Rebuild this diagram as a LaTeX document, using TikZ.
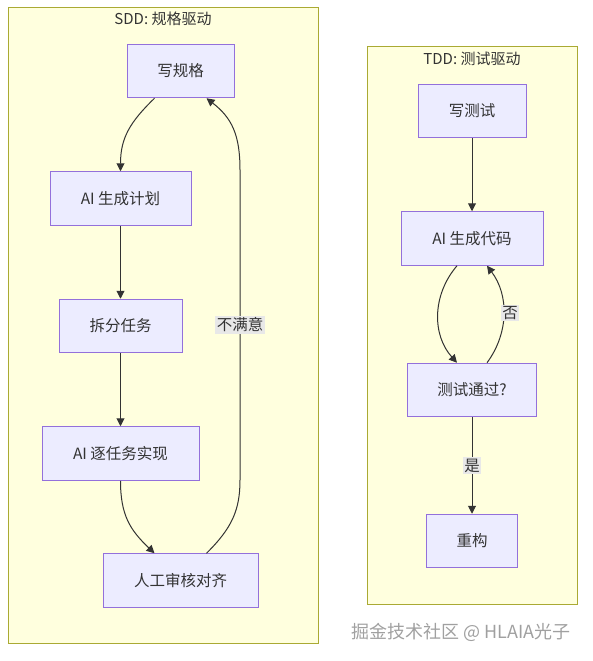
\documentclass[tikz,border=0pt]{standalone}
\usepackage{fontspec}
\setmainfont{Noto Sans CJK SC}
\usetikzlibrary{arrows.meta,positioning,calc}
\definecolor{clusterFill}{RGB}{255, 255, 222}
\definecolor{clusterLine}{RGB}{170, 170, 51}
\definecolor{stepFill}{RGB}{236, 236, 255}
\definecolor{stepLine}{RGB}{147, 112, 219}
\definecolor{edgeInk}{RGB}{51, 51, 51}
\definecolor{labelFill}{RGB}{232, 232, 232}
\definecolor{markGray}{RGB}{160, 160, 160}

\begin{document}
\begin{tikzpicture}[x=1pt, y=-1pt,
    cluster/.style={draw=clusterLine, fill=clusterFill, line width=1pt, inner sep=0pt},
    title/.style={font=\fontsize{15pt}{18pt}\selectfont, text=edgeInk},
    stepbox/.style={draw=stepLine, fill=stepFill, line width=1pt, minimum height=53.5pt, inner sep=0pt,
        font=\fontsize{15.5pt}{18pt}\selectfont, text=edgeInk},
    flow/.style={draw=edgeInk, line width=1pt, -{Triangle[length=8pt,width=8pt]}},
    edgetag/.style={fill=labelFill, inner sep=1.5pt, font=\fontsize{15.5pt}{18pt}\selectfont, text=edgeInk}]
      \useasboundingbox (0,0) rectangle (593,661);

      % SDD side
      \node (sdd) [cluster, minimum width=310pt, minimum height=635pt] at (163,325.5) {};
      \node (sddTitle) [title] at (163,19) {SDD: 规格驱动};
      \node (spec) [stepbox, minimum width=107pt] at (180.5,71) {写规格};
      \node (plan) [stepbox, minimum width=141pt] at (120.5,198.5) {AI 生成计划};
      \node (split) [stepbox, minimum width=123pt] at (120.5,326) {拆分任务};
      \node (impl) [stepbox, minimum width=157pt] at (120.5,453.5) {AI 逐任务实现};
      \node (review) [stepbox, minimum width=155pt] at (180.5,580.5) {人工审核对齐};

      \draw[flow] ([xshift=-26pt]spec.south) .. controls (130,122) and (120.5,138) .. (plan.north);
      \draw[flow] (plan) -- (split);
      \draw[flow] (split) -- (impl);
      \draw[flow] (impl.south) .. controls (120.5,515) and (130,530) .. ([xshift=-26pt]review.north);
      \draw[flow] ([xshift=26pt]review.north) .. controls (232,528) and (240,510) .. (240,480)
          -- node[edgetag] {不满意} (240,170) .. controls (240,135) and (232,118) .. ([xshift=26pt]spec.south);

      % TDD side
      \node (tdd) [cluster, minimum width=210pt, minimum height=557pt] at (472,325.5) {};
      \node (tddTitle) [title] at (472,59) {TDD: 测试驱动};
      \node (test) [stepbox, minimum width=108pt] at (472,111) {写测试};
      \node (code) [stepbox, minimum width=142pt] at (472,238.5) {AI 生成代码};
      \node (pass) [stepbox, minimum width=129pt] at (472,390) {测试通过?};
      \node (refactor) [stepbox, minimum width=91pt] at (472,541) {重构};

      \draw[flow] (test) -- (code);
      \draw[flow] ([xshift=-15pt]code.south) .. controls (432,295) and (432,335) .. ([xshift=-15pt]pass.north);
      \draw[flow] ([xshift=15pt]pass.north) .. controls (509,333) and (509,295) .. ([xshift=15pt]code.south);
      \node (noTag) [edgetag] at (510,313) {否};
      \draw[flow] (pass) -- node[edgetag] {是} (refactor);

      \node (mark) [font=\fontsize{18pt}{21pt}\selectfont, text=markGray] at (461,632) {掘金技术社区 @ HLAIA光子};
  \end{tikzpicture}
\end{document}
